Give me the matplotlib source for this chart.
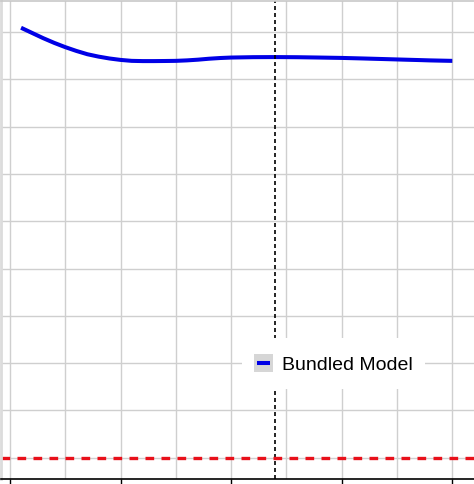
import matplotlib.pyplot as plt
import numpy as np
from matplotlib.patches import Rectangle
from matplotlib.lines import Line2D

plt.rcParams['font.family'] = ['Liberation Sans', 'DejaVu Sans']

# data
steps = [1, 2, 3, 4, 5, 6, 7, 8, 9, 10, 11, 12, 13, 14, 15, 16, 17, 18, 19, 20,
         22, 24, 26, 28, 30, 32, 35, 38, 40]
score = [9.09, 8.98, 8.87, 8.77, 8.68, 8.60, 8.53, 8.48, 8.44, 8.41, 8.39, 8.385, 8.385,
         8.387, 8.39, 8.40, 8.415, 8.435, 8.45, 8.46, 8.468, 8.47, 8.467, 8.46, 8.452,
         8.44, 8.42, 8.40, 8.39]
band = [0.04, 0.035, 0.03, 0.028, 0.025, 0.022, 0.02, 0.02, 0.02, 0.018, 0.015, 0.015, 0.015,
        0.015, 0.015, 0.015, 0.015, 0.015, 0.015, 0.015, 0.015, 0.015, 0.018, 0.02, 0.02,
        0.022, 0.025, 0.03, 0.035]
baseline = 0.0
marker_step = 24
major_ticks = [0, 10, 20, 30, 40]
minor_ticks = [5, 15, 25, 35]
y_grid = [0, 1, 2, 3, 4, 5, 6, 7, 8, 9]

LINE_COLOR = '#0000e6'

score = np.array(score)
band = np.array(band)


class BandLineHandler:
    # gray square with a shorter blue stroke in the middle, centred on the text
    def legend_artist(self, legend, orig_handle, fontsize, handlebox):
        x0 = -handlebox.xdescent
        w = handlebox.width
        side = w
        yc = 0.36 * fontsize
        rect = Rectangle((x0, yc - side / 2), side, side, facecolor='#d6d6d6',
                         edgecolor='none', transform=handlebox.get_transform())
        line = Line2D([x0 + 0.18 * w, x0 + 0.88 * w], [yc, yc], color=LINE_COLOR, lw=2.9,
                      solid_capstyle='butt', transform=handlebox.get_transform())
        handlebox.add_artist(rect)
        handlebox.add_artist(line)
        return rect


fig = plt.figure(figsize=(4.74, 4.84), dpi=100)
# axes is larger than the figure: the reference is a crop of a bigger plot
ax = fig.add_axes([1 / 474, 5 / 484, 1.05, 478.5 / 484])

ax.fill_between(steps, score - band, score + band, color='gray', alpha=0.3, lw=0)
ax.plot(steps, score, color=LINE_COLOR, lw=2.9, solid_capstyle='butt')
ax.axvline(marker_step, color='black', lw=1.2, linestyle=(0, (2.4, 1.8)))
ax.axhline(baseline, color='#e8101a', lw=2.4, linestyle=(0, (2.6, 2.2)))

ax.set_xlim(-0.814, 44.2)
ax.set_ylim(-0.45, 9.666)
ax.set_xticks(major_ticks)
ax.set_xticks(minor_ticks, minor=True)
ax.set_yticks(y_grid)
ax.grid(True, which='both', color='#cfcfcf', lw=1.0)
ax.set_axisbelow(True)
ax.tick_params(axis='x', which='major', direction='out', length=6, width=1, labelbottom=False)
ax.tick_params(axis='x', which='minor', length=0)
ax.tick_params(axis='y', left=False, labelleft=False)

ax.spines['bottom'].set_color('black')
ax.spines['bottom'].set_linewidth(1.2)
ax.spines['left'].set_color('#dcdcdc')
ax.spines['left'].set_linewidth(2)
ax.spines['top'].set_color('#c8c8c8')
ax.spines['top'].set_linewidth(1.2)
ax.spines['right'].set_visible(False)

proxy = object()
leg = ax.legend([proxy], ['Bundled Model'], handler_map={object: BandLineHandler()},
                loc='center', bbox_to_anchor=(333.5 / 474, 1 - 363.5 / 484),
                bbox_transform=fig.transFigure,
                fontsize=14, handlelength=0.95, handleheight=1.75, handletextpad=0.5,
                borderpad=0.6, frameon=True, fancybox=False, framealpha=1)
leg.get_frame().set_edgecolor('none')
leg.get_frame().set_facecolor('white')

fig.savefig('out.png', dpi=100)
